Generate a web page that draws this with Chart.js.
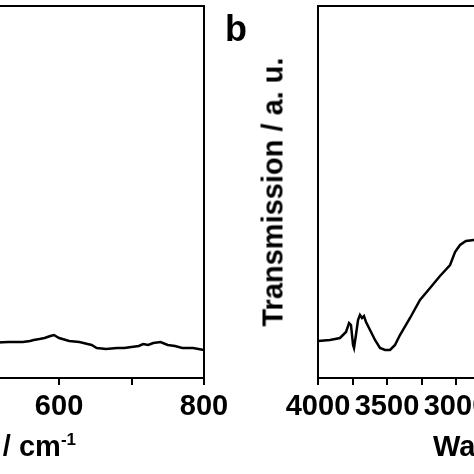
<!DOCTYPE html>
<html><head>
<script src="https://cdn.jsdelivr.net/npm/chart.js@4"></script>
<style>
body{margin:0;width:474px;height:474px;overflow:hidden;position:relative;background:#fff;font-family:"Liberation Sans",Arial,sans-serif;font-weight:bold;color:#000}
canvas{position:absolute;top:0}
.t{position:absolute;white-space:nowrap;font-weight:bold}
</style></head><body>
<canvas id="a" width="494" height="474" style="left:-260px"></canvas>
<canvas id="b" width="260" height="474" style="left:270px"></canvas>
<div class="t" style="left:225px;top:8px;font-size:36px">b</div>
<div class="t" style="left:273px;top:192px;font-size:29px;transform:translate(-50%,-50%) rotate(-90deg)">Transmission / a. u.</div>
<div class="t" style="right:398px;top:430px;font-size:29px">Wavenumber / cm<sup style="font-size:17px">-1</sup></div>
<div class="t" style="left:433px;top:430px;font-size:29px">Wavenumber / cm<sup style="font-size:17px">-1</sup></div>
<script>
// Panel a (Raman-like, right part)
const aX=[500,530,550,560,565,573,580,588,593,600,614,628,645,652,665,680,690,700,710,716,723,730,740,750,760,770,785,800];
const aY=[35,36,36,37,38,39,40,42,43,40,37,36,33,30,29,30,30,31,32,34,33,35,36,33,32,30,30,28];
// Panel b (IR transmission)
const bX=[4000,3913,3841,3797,3775,3761,3746,3739,3725,3710,3696,3681,3667,3652,3623,3587,3551,3514,3478,3442,3406,3333,3261,3188,3116,3043,3007,2971,2928,2870,2800,2700];
const bY=[37,38,40,46,55,53,33,30,43,58,63,60,62,56,48,38,30,28,28,33,43,60,78,90,102,113,126,133,137,138,139,140];
const ticksA=[200,400,600,800];
const ticksB=[4000,3500,3000,2500];

function make(id,xs,ys,min,max,step,labels,padL,padR,rev){
  const tickFont={family:'"Liberation Sans", Arial, sans-serif',size:29,weight:'bold'};
  new Chart(document.getElementById(id),{
    type:'line',
    data:{datasets:[{data:xs.map((x,i)=>({x:x,y:ys[i]})),borderColor:'#000',borderWidth:2.5,pointRadius:0,tension:0}]},
    options:{responsive:false,animation:false,devicePixelRatio:1,
      layout:{padding:{left:padL,right:padR,top:6,bottom:0}},
      plugins:{legend:{display:false},tooltip:{enabled:false}},
      scales:{
        x:{type:'linear',position:'bottom',min:min,max:max,reverse:rev,
          afterFit:s=>{s.height=96;},
          afterBuildTicks:s=>{const t=[];for(let v=min;v<=max;v+=step)t.push({value:v});s.ticks=t;},
          ticks:{color:'#000',font:tickFont,padding:5,maxRotation:0,autoSkip:false,
            callback:v=>labels.includes(v)?String(v):''},
          grid:{drawOnChartArea:false,tickLength:7,color:'#000',lineWidth:2},
          border:{color:'#000',width:2}},
        x2:{type:'linear',position:'top',min:min,max:max,afterFit:s=>{s.height=0;},
          ticks:{display:false},grid:{drawOnChartArea:false,drawTicks:false},border:{color:'#000',width:2}},
        y:{type:'linear',min:0,max:372,afterFit:s=>{s.width=0;},
          ticks:{display:false},grid:{drawOnChartArea:false,drawTicks:false},border:{color:'#000',width:2}},
        y2:{type:'linear',position:'right',min:0,max:372,afterFit:s=>{s.width=0;},
          ticks:{display:false},grid:{drawOnChartArea:false,drawTicks:false},border:{color:'#000',width:2}}
      }}
  });
}
make('a',aX,aY,200,800,100,ticksA,29,30,false);
make('b',bX,bY,2500,4000,250,ticksB,48,5,true);
</script>
</body></html>
